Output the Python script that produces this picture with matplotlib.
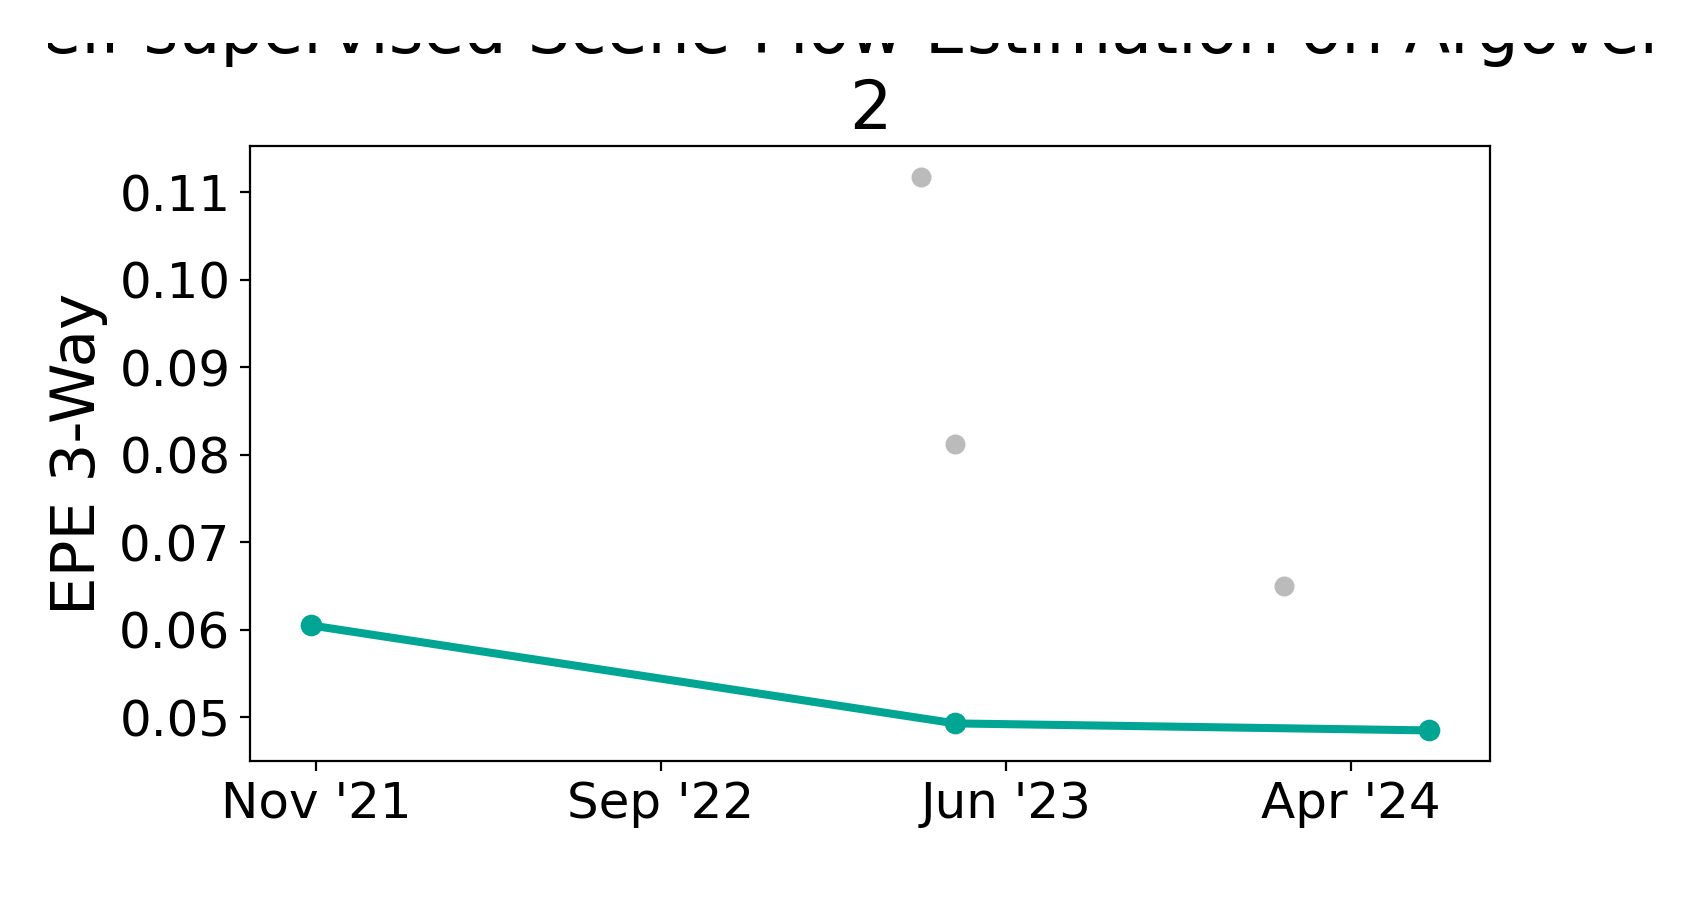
import matplotlib
matplotlib.use("Agg")
import matplotlib.pyplot as plt
import matplotlib.dates as mdates
from matplotlib.transforms import Bbox
import datetime as dt

# Data
frontier_dates = ["2021-11-11", "2023-05-12", "2024-06-17"]
frontier_values = [0.0605, 0.0493, 0.0485]
other_dates = ["2023-04-13", "2023-05-12", "2024-02-15"]
other_values = [0.1118, 0.0812, 0.0650]
tick_dates = ["2021-11-15", "2022-09-04", "2023-06-24", "2024-04-12"]
tick_labels = ["Nov '21", "Sep '22", "Jun '23", "Apr '24"]
ytick_values = [0.05, 0.06, 0.07, 0.08, 0.09, 0.10, 0.11]
ytick_labels = ["0.05", "0.06", "0.07", "0.08", "0.09", "0.10", "0.11"]
title = "Self-supervised Scene Flow Estimation on Argoverse\n2"
ylabel = "EPE 3-Way"

def to_dt(lst):
    return [dt.datetime.strptime(s, "%Y-%m-%d") for s in lst]

fig = plt.figure(figsize=(8.5, 4.5), dpi=200)
ax = fig.add_axes([0.147, 0.1544, 0.8765 - 0.147, 0.8378 - 0.1544])

ax.plot(to_dt(other_dates), other_values, "o", color="#bbbbbb", markersize=6.2, zorder=2)
ax.plot(to_dt(frontier_dates), frontier_values, "-o", color="#00a693", linewidth=2.9,
        markersize=6.8, zorder=3)

ax.set_xticks(mdates.date2num(to_dt(tick_dates)))
ax.set_xticklabels(tick_labels, fontsize=18)
ax.set_yticks(ytick_values)
ax.set_yticklabels(ytick_labels, fontsize=18)
ax.set_ylim(0.0450, 0.1153)
x0 = mdates.date2num(dt.datetime(2021, 11, 15))
ax.set_xlim(x0 - 56, x0 + 997)
ax.set_ylabel(ylabel, fontsize=22)
t = ax.set_title(title, fontsize=24)
t.set_clip_box(Bbox([[48, 0], [1652, 857]]))
t.set_clip_on(True)

fig.savefig("out.png", dpi=200)
